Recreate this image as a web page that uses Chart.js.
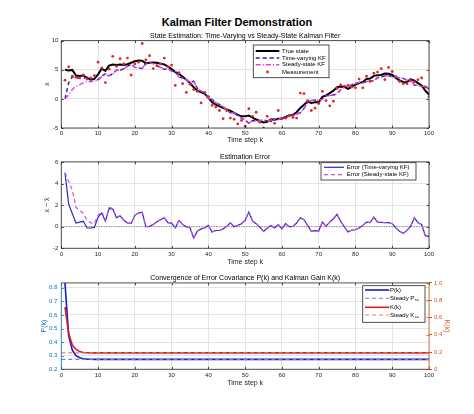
<!DOCTYPE html>
<html><head><meta charset="utf-8">
<script src="https://cdn.jsdelivr.net/npm/chart.js@4.4.0/dist/chart.umd.min.js"></script>
<style>
html,body{margin:0;padding:0;background:#fff;}
#wrap{position:relative;width:474px;height:414px;overflow:hidden;background:#fff;}
#main{position:absolute;left:0;top:15px;width:474px;text-align:center;font:bold 11px 'Liberation Sans',Arial,sans-serif;color:#000;line-height:14px;}
canvas{position:absolute;left:0;}
</style></head><body>
<div id="wrap">
<div id="main">Kalman Filter Demonstration</div>
<canvas id="c1" style="top:0px" width="474" height="150"></canvas>
<canvas id="c2" style="top:145px" width="474" height="126"></canvas>
<canvas id="c3" style="top:265px" width="474" height="126"></canvas>
</div>
<script>
const FONT = "'Liberation Sans', Arial, sans-serif";
const steps = Array.from({length:100},(_,i)=>i+1);
const xTicks = [0,10,20,30,40,50,60,70,80,90,100];
const titles = ['State Estimation: Time-Varying vs Steady-State Kalman Filter','Estimation Error','Convergence of Error Covariance P(k) and Kalman Gain K(k)'];
const xLabel = 'Time step k';

const trueState = [5.0,4.86,4.97,4.0,3.94,4.0,3.6,3.3,3.43,4.2,
 5.2,4.8,5.7,5.9,5.8,5.9,5.8,5.95,6.2,6.45,
 6.6,6.55,6.1,6.2,6.25,6.2,6.05,5.9,5.55,5.1,
 4.6,4.3,3.8,3.3,2.7,2.0,1.4,1.15,0.85,0.2,
 -0.6,-1.0,-1.3,-1.55,-1.8,-2.05,-2.4,-2.75,-3.0,-3.0,
 -2.85,-3.2,-3.55,-3.8,-4.05,-3.95,-3.5,-3.6,-3.4,-3.4,
 -3.1,-2.85,-2.75,-2.3,-1.55,-1.0,-0.45,-0.7,-0.6,-0.6,
 0.35,0.6,1.0,1.4,2.0,2.1,2.05,1.7,2.1,2.45,
 2.7,2.9,3.4,3.5,3.95,4.05,4.1,4.35,4.3,4.1,
 3.6,3.15,2.9,2.85,3.4,3.15,2.7,2.3,1.4,0.75];

const tvEstimate = [0.0,2.76,3.77,3.66,3.51,3.5,3.72,3.42,3.49,3.3,
 3.94,4.3,4.0,4.27,4.97,4.9,5.2,5.61,5.9,5.4,
 5.34,5.2,6.1,6.17,6.05,5.75,5.4,5.07,5.18,4.76,
 4.7,3.72,3.6,3.3,2.8,3.04,1.8,1.35,0.97,0.08,
 -0.1,-0.65,-0.95,-1.35,-1.85,-2.4,-2.4,-2.87,-3.28,-3.58,
 -4.2,-3.72,-3.83,-3.75,-3.62,-3.8,-3.62,-3.48,-3.6,-3.2,
 -3.38,-2.85,-2.78,-2.64,-2.38,-1.65,-0.57,-0.27,-0.23,-0.2,
 -0.08,0.54,0.57,0.66,0.86,1.61,2.08,2.19,2.41,2.73,
 2.82,2.78,2.97,3.13,3.06,3.62,3.7,3.98,3.93,3.82,
 3.72,3.58,3.52,3.19,3.37,2.32,2.33,2.1,2.23,1.65];

const ssEstimate = [0.0,0.66,1.6,2.2,2.44,2.75,3.0,2.95,3.13,3.15,
 3.82,4.2,3.92,4.22,4.93,4.87,5.18,5.59,5.9,5.4,
 5.34,5.2,6.1,6.17,6.05,5.75,5.4,5.07,5.18,4.76,
 4.7,3.72,3.6,3.3,2.8,3.04,1.8,1.35,0.97,0.08,
 -0.1,-0.65,-0.95,-1.35,-1.85,-2.4,-2.4,-2.87,-3.28,-3.58,
 -4.2,-3.72,-3.83,-3.75,-3.62,-3.8,-3.62,-3.48,-3.6,-3.2,
 -3.38,-2.85,-2.78,-2.64,-2.38,-1.65,-0.57,-0.27,-0.23,-0.2,
 -0.08,0.54,0.57,0.66,0.86,1.61,2.08,2.19,2.41,2.73,
 2.82,2.78,2.97,3.13,3.06,3.62,3.7,3.98,3.93,3.82,
 3.72,3.58,3.52,3.19,3.37,2.32,2.33,2.1,2.23,1.65];

const measurements = [3.2,5.5,3.9,3.7,3.6,4.1,3.4,3.6,4.0,6.3,
 5.3,2.8,5.1,7.3,5.6,6.9,6.0,7.0,4.1,6.0,
 6.3,9.5,6.7,7.4,5.2,5.7,6.0,7.0,5.5,5.8,
 2.3,4.5,2.6,1.1,2.5,1.6,1.3,-0.7,1.1,0.4,
 -1.1,-1.4,-2.0,-3.4,-2.0,-3.3,-3.5,-4.3,-3.7,-4.7,
 -1.7,-3.0,-2.3,-4.0,-5.0,-3.0,-3.8,-4.2,-2.0,-3.4,
 -3.3,-2.9,-3.2,-3.3,1.0,0.9,-0.3,-2.0,-1.6,-0.8,
 1.3,-0.3,-1.2,-0.4,1.8,2.4,2.2,2.3,2.0,1.9,
 3.4,1.9,3.9,3.0,4.4,4.6,5.2,3.3,5.4,4.7,
 3.8,3.0,2.6,2.6,3.1,2.9,3.3,3.6,2.0,0.4];

const errTv = [5.0,2.1,1.2,0.34,0.43,0.5,-0.12,-0.12,-0.06,0.9,
 1.26,0.5,1.7,1.63,0.83,1.0,0.6,0.34,0.3,1.05,
 1.26,1.35,0.0,0.03,0.2,0.45,0.65,0.83,0.37,0.34,
 -0.1,0.58,0.2,0.0,-0.1,-1.04,-0.4,-0.2,-0.12,0.12,
 -0.5,-0.35,-0.35,-0.2,0.05,0.35,0.0,0.12,0.28,0.58,
 1.35,0.52,0.28,-0.05,-0.43,-0.15,0.12,-0.12,0.2,-0.2,
 0.28,0.0,0.03,0.34,0.83,0.65,0.12,-0.43,-0.37,-0.4,
 0.43,0.06,0.43,0.74,1.14,0.49,-0.03,-0.49,-0.31,-0.28,
 -0.12,0.12,0.43,0.37,0.89,0.43,0.4,0.37,0.37,0.28,
 -0.12,-0.43,-0.62,-0.34,0.03,0.83,0.37,0.2,-0.83,-0.9];

const errSs = [5.0,4.2,3.37,1.8,1.5,1.25,0.6,0.35,0.3,1.05,
 1.38,0.6,1.78,1.68,0.87,1.03,0.62,0.36,0.3,1.05,
 1.26,1.35,0.0,0.03,0.2,0.45,0.65,0.83,0.37,0.34,
 -0.1,0.58,0.2,0.0,-0.1,-1.04,-0.4,-0.2,-0.12,0.12,
 -0.5,-0.35,-0.35,-0.2,0.05,0.35,0.0,0.12,0.28,0.58,
 1.35,0.52,0.28,-0.05,-0.43,-0.15,0.12,-0.12,0.2,-0.2,
 0.28,0.0,0.03,0.34,0.83,0.65,0.12,-0.43,-0.37,-0.4,
 0.43,0.06,0.43,0.74,1.14,0.49,-0.03,-0.49,-0.31,-0.28,
 -0.12,0.12,0.43,0.37,0.89,0.43,0.4,0.37,0.37,0.28,
 -0.12,-0.43,-0.62,-0.34,0.03,0.83,0.37,0.2,-0.83,-0.9];

const zeroX = [0,100];
const zeroY = [0,0];

const pValues = [0.836,0.45,0.34,0.30,0.285,0.278,0.275,0.274,0.273,0.273,
 0.273,0.273,0.273,0.273,0.273,0.273,0.273,0.273,0.273,0.273,
 0.273,0.273,0.273,0.273,0.273,0.273,0.273,0.273,0.273,0.273,
 0.273,0.273,0.273,0.273,0.273,0.273,0.273,0.273,0.273,0.273,
 0.273,0.273,0.273,0.273,0.273,0.273,0.273,0.273,0.273,0.273,
 0.273,0.273,0.273,0.273,0.273,0.273,0.273,0.273,0.273,0.273,
 0.273,0.273,0.273,0.273,0.273,0.273,0.273,0.273,0.273,0.273,
 0.273,0.273,0.273,0.273,0.273,0.273,0.273,0.273,0.273,0.273,
 0.273,0.273,0.273,0.273,0.273,0.273,0.273,0.273,0.273,0.273,
 0.273,0.273,0.273,0.273,0.273,0.273,0.273,0.273,0.273,0.273];
const kValues = [0.72,0.42,0.28,0.23,0.205,0.195,0.192,0.19,0.19,0.19,
 0.19,0.19,0.19,0.19,0.19,0.19,0.19,0.19,0.19,0.19,
 0.19,0.19,0.19,0.19,0.19,0.19,0.19,0.19,0.19,0.19,
 0.19,0.19,0.19,0.19,0.19,0.19,0.19,0.19,0.19,0.19,
 0.19,0.19,0.19,0.19,0.19,0.19,0.19,0.19,0.19,0.19,
 0.19,0.19,0.19,0.19,0.19,0.19,0.19,0.19,0.19,0.19,
 0.19,0.19,0.19,0.19,0.19,0.19,0.19,0.19,0.19,0.19,
 0.19,0.19,0.19,0.19,0.19,0.19,0.19,0.19,0.19,0.19,
 0.19,0.19,0.19,0.19,0.19,0.19,0.19,0.19,0.19,0.19,
 0.19,0.19,0.19,0.19,0.19,0.19,0.19,0.19,0.19,0.19];
const steadyX = [0,100];
const pSteadyLine = [0.273,0.273];
const kSteadyLine = [0.19,0.19];

function pts(xs, ys){ return xs.map((x,i)=>({x:x,y:ys[i]})); }

Chart.defaults.font.family = FONT;
Chart.defaults.color = '#262626';

const legendCfg = {
  c1:{x:253.3,y:45,w:75.7,h:32.7,lx0:255.7,lx1:279.3,tx:282,rows:[51,58,64.7,72],items:[0,1,2,3],size:6},
  c2:{x:321,y:17.7,w:95,h:17.3,lx0:324,lx1:344,tx:346.7,rows:[22.3,29.7],items:[0,1],size:6},
  c3:{x:362.7,y:20.7,w:62.3,h:36.6,lx0:365,lx1:389.3,tx:390,rows:[25,33.3,42.3,50],items:[0,1,2,3],size:6}
};
const frameCfg = {
  c1:{left:'#262626',right:'#262626'},
  c2:{left:'#262626',right:'#262626'},
  c3:{left:'#0072BD',right:'#D95319'}
};

const axesFrame = {
  id:'axesFrame',
  afterDatasetsDraw(chart){
    const cfg = frameCfg[chart.canvas.id];
    const {left,right,top,bottom} = chart.chartArea;
    const ctx = chart.ctx; ctx.save();
    ctx.lineWidth = 0.8; ctx.setLineDash([]);
    const L = 2.5;
    const ln=(a,b,c,d)=>{ctx.beginPath();ctx.moveTo(a,b);ctx.lineTo(c,d);ctx.stroke();};
    ctx.strokeStyle = '#262626';
    chart.scales.x.ticks.forEach(t=>{const px=Math.round(chart.scales.x.getPixelForValue(t.value))+0.5; ln(px,bottom,px,bottom-L); ln(px,top,px,top+L);});
    ctx.strokeStyle = cfg.left;
    chart.scales.y.ticks.forEach(t=>{const py=Math.round(chart.scales.y.getPixelForValue(t.value))+0.5; ln(left,py,left+L,py); if(!chart.scales.y1) ln(right,py,right-L,py);});
    if(chart.scales.y1){
      ctx.strokeStyle = cfg.right;
      chart.scales.y1.ticks.forEach(t=>{const py=Math.round(chart.scales.y1.getPixelForValue(t.value))+0.5; ln(right,py,right-L,py);});
    }
    ctx.strokeStyle='#262626';
    ln(left,top,right,top); ln(left,bottom,right,bottom);
    ctx.strokeStyle=cfg.left; ln(left,top,left,bottom);
    ctx.strokeStyle=cfg.right; ln(right,top,right,bottom);
    ctx.restore();
  },
  afterDraw(chart){
    const o = legendCfg[chart.canvas.id];
    const ctx = chart.ctx; ctx.save();
    ctx.fillStyle='#fff'; ctx.fillRect(o.x,o.y,o.w,o.h);
    ctx.strokeStyle='#262626'; ctx.lineWidth=0.8; ctx.strokeRect(o.x,o.y,o.w,o.h);
    o.items.forEach((di,j)=>{
      const ds = chart.data.datasets[di];
      const yy = o.rows[j];
      if(ds.showLine===false){
        ctx.fillStyle = ds.pointBackgroundColor; ctx.beginPath();
        ctx.arc((o.lx0+o.lx1)/2, yy, ds.pointRadius, 0, 2*Math.PI); ctx.fill();
      } else {
        ctx.strokeStyle = ds.borderColor; ctx.lineWidth = ds.borderWidth; ctx.setLineDash(ds.borderDash||[]);
        ctx.beginPath(); ctx.moveTo(o.lx0,yy); ctx.lineTo(o.lx1,yy); ctx.stroke(); ctx.setLineDash([]);
      }
      ctx.fillStyle='#000'; ctx.font = o.size+'px '+FONT; ctx.textBaseline='middle'; ctx.textAlign='left';
      const parts = ds.label.split('_');
      ctx.fillText(parts[0], o.tx, yy);
      if(parts[1]){ const w = ctx.measureText(parts[0]).width; ctx.font=(o.size*0.7)+'px '+FONT; ctx.fillText(parts[1], o.tx+w+0.4, yy+2); }
    });
    ctx.restore();
  }
};

const gridCol = '#e4e4e4';
function xScale(h, pb){
  return {type:'linear', min:0, max:100, afterBuildTicks(s){ s.ticks = xTicks.map(v=>({value:v})); },
    ticks:{font:{size:6}, color:'#262626', padding:2, maxRotation:0, autoSkip:false},
    grid:{color:gridCol, drawTicks:false, lineWidth:1}, border:{display:false},
    title:{display:true, text:xLabel, font:{size:7}, color:'#262626', padding:{top:0,bottom:pb}},
    afterFit(s){ s.height = h; }};
}
function titleOpt(text, pt, pb){
  return {display:true, text:text, fullSize:false, font:{size:7, weight:'normal', lineHeight:1.2}, color:'#000', padding:{top:pt,bottom:pb}};
}
const common = {responsive:false, animation:false, devicePixelRatio:1, events:[]};

new Chart(document.getElementById('c1'), {
  type:'line',
  data:{datasets:[
    {label:'True state', data:pts(steps,trueState), borderColor:'#000000', borderWidth:2, pointRadius:0, order:4},
    {label:'Time-varying KF', data:pts(steps,tvEstimate), borderColor:'#2020b0', borderWidth:1.4, borderDash:[4,3], pointRadius:0, order:3},
    {label:'Steady-state KF', data:pts(steps,ssEstimate), borderColor:'#e040e0', borderWidth:1.4, borderDash:[5,2,1.2,2], pointRadius:0, order:2},
    {label:'Measurement', data:pts(steps,measurements), showLine:false, pointRadius:1.4, pointBackgroundColor:'#e02828', pointBorderWidth:0, borderColor:'#e02828', order:1}
  ]},
  options:Object.assign({}, common, {
    layout:{padding:{left:0,right:45,top:0,bottom:0}},
    plugins:{legend:{display:false}, tooltip:{enabled:false}, title:titleOpt(titles[0], 31.8, 0.4)},
    scales:{
      x:xScale(22, 5.8),
      y:{min:-5, max:10, ticks:{stepSize:5, font:{size:6}, color:'#262626', padding:3},
         grid:{color:gridCol, drawTicks:false}, border:{display:false},
         title:{display:true, text:'x', font:{size:7}, color:'#262626', padding:{top:42.8,bottom:0}},
         afterFit(s){ s.width = 61.3; }}
    }
  }),
  plugins:[axesFrame]
});

new Chart(document.getElementById('c2'), {
  type:'line',
  data:{datasets:[
    {label:'Error (Time-varying KF)', data:pts(steps,errTv), borderColor:'#2a2ac4', borderWidth:1.2, pointRadius:0, order:3},
    {label:'Error (Steady-state KF)', data:pts(steps,errSs), borderColor:'#cc4ee0', borderWidth:1.2, borderDash:[4,3], pointRadius:0, order:2},
    {label:'', data:pts(zeroX,zeroY), borderColor:'#555555', borderWidth:0.8, borderDash:[1,1.5], pointRadius:0, order:5}
  ]},
  options:Object.assign({}, common, {
    layout:{padding:{left:0,right:45,top:0,bottom:0}},
    plugins:{legend:{display:false}, tooltip:{enabled:false}, title:titleOpt(titles[1], 7.8, 0.7)},
    scales:{
      x:xScale(22.7, 4.4),
      y:{min:-2, max:6, ticks:{stepSize:2, font:{size:6}, color:'#262626', padding:3},
         grid:{color:gridCol, drawTicks:false}, border:{display:false},
         title:{display:true, text:'x \u2212 x\u0302', font:{size:7}, color:'#262626', padding:{top:42.8,bottom:0}},
         afterFit(s){ s.width = 61.3; }}
    }
  }),
  plugins:[axesFrame]
});

new Chart(document.getElementById('c3'), {
  type:'line',
  data:{datasets:[
    {label:'P(k)', data:pts(steps,pValues), borderColor:'#1a1acc', borderWidth:1.6, pointRadius:0, yAxisID:'y', order:4},
    {label:'Steady P_ss', data:pts(steadyX,pSteadyLine), borderColor:'#7a7ad8', borderWidth:1.1, borderDash:[4,3], pointRadius:0, yAxisID:'y', order:3},
    {label:'K(k)', data:pts(steps,kValues), borderColor:'#d42020', borderWidth:1.6, pointRadius:0, yAxisID:'y1', order:2},
    {label:'Steady K_ss', data:pts(steadyX,kSteadyLine), borderColor:'#e47a7a', borderWidth:1.1, borderDash:[4,3], pointRadius:0, yAxisID:'y1', order:1}
  ]},
  options:Object.assign({}, common, {
    layout:{padding:{left:0,right:0,top:0,bottom:0}},
    plugins:{legend:{display:false}, tooltip:{enabled:false}, title:titleOpt(titles[2], 8.8, 0.7)},
    scales:{
      x:xScale(21.7, 4.1),
      y:{position:'left', min:0.2, max:0.836, ticks:{stepSize:0.1, includeBounds:false, font:{size:6}, color:'#0072BD', padding:4},
         grid:{color:gridCol, drawTicks:false}, border:{display:false},
         title:{display:true, text:'P(k)', font:{size:7}, color:'#0072BD', padding:{top:39.4,bottom:0}},
         afterFit(s){ s.width = 61.3; }},
      y1:{position:'right', min:0, max:1, ticks:{stepSize:0.2, font:{size:6}, color:'#D95319', padding:2},
         grid:{drawOnChartArea:false, drawTicks:true, tickLength:3, tickColor:'#D95319'}, border:{display:false},
         title:{display:true, text:'K(k)', font:{size:7}, color:'#D95319', padding:{top:22.4,bottom:0}},
         afterFit(s){ s.width = 45; }}
    }
  }),
  plugins:[axesFrame]
});
</script>
</body></html>
